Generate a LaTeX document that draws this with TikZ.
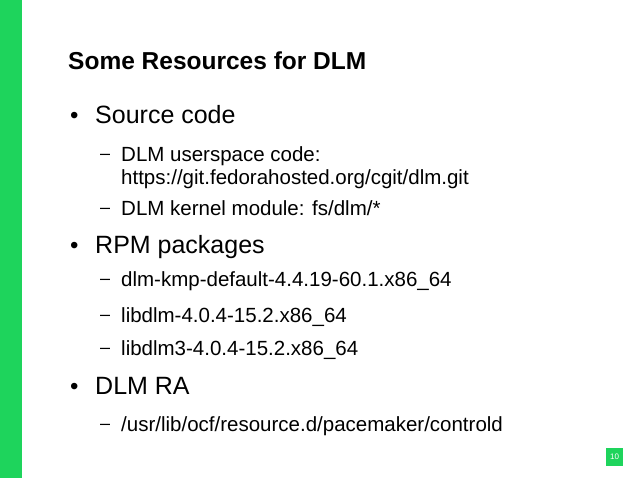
\documentclass[tikz,border=0pt]{standalone}
\usepackage{fontspec}
\setmainfont{Liberation Sans}
\definecolor{grn}{HTML}{1ED45C}
\begin{document}
\begin{tikzpicture}[x=1pt,y=-1pt,
 t1/.style={anchor=base west,inner sep=0,font=\fontsize{25}{30}\selectfont},
 t2/.style={anchor=base west,inner sep=0,font=\fontsize{20.5}{24}\selectfont,align=left},
 bl/.style={anchor=base west,inner sep=0,font=\fontsize{24}{28}\selectfont},
 ds/.style={anchor=base west,inner sep=0,font=\fontsize{18}{20}\selectfont}]
\useasboundingbox (0,0) rectangle (638,478);
\fill[white] (0,0) rectangle (638,478);
\fill[grn] (0,0) rectangle (22,478);
\node[anchor=base west,inner sep=0,font=\bfseries\fontsize{24.5}{28}\selectfont] (title) at (68,70) {Some Resources for DLM};
\node[bl] (b1) at (70,124) {•}; \node[t1] (s1) at (95,124) {Source code};
\node[ds] (d1) at (100,160) {–}; \node[t2] (a1) at (121,162) {DLM userspace code:};
\node[t2] (a1b) at (121,185) {https://git.fedorahosted.org/cgit/dlm.git};
\node[ds] (d2) at (100,214) {–}; \node[t2] (a2) at (121,216) {DLM kernel module: fs/dlm/*};
\node[bl] (b2) at (70,254) {•}; \node[t1] (s2) at (95,254) {RPM packages};
\node[ds] (d3) at (100,285) {–}; \node[t2] (a3) at (121,287) {dlm-kmp-default-4.4.19-60.1.x86\_64};
\node[ds] (d4) at (100,321) {–}; \node[t2] (a4) at (121,323) {libdlm-4.0.4-15.2.x86\_64};
\node[ds] (d5) at (100,354) {–}; \node[t2] (a5) at (121,356) {libdlm3-4.0.4-15.2.x86\_64};
\node[bl] (b3) at (70,395) {•}; \node[t1] (s3) at (95,395) {DLM RA};
\node[ds] (d6) at (100,430) {–}; \node[t2] (a6) at (121,432) {/usr/lib/ocf/resource.d/pacemaker/controld};
\fill[grn] (606,448) rectangle (623,466);
\node[text=white,font=\fontsize{8}{9}\selectfont,inner sep=0] (pg) at (614.5,457) {10};
\end{tikzpicture}
\end{document}
